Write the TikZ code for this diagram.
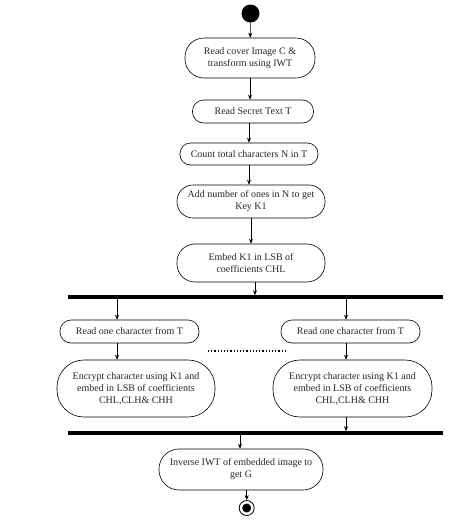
\documentclass[tikz,border=0pt]{standalone}
\usepackage{fontspec}
\setmainfont{Liberation Serif}
\usetikzlibrary{arrows.meta}
\tikzset{
  actbox/.style={draw=black, line width=0.6pt, align=center, inner sep=0pt,
    font=\fontsize{10}{12}\selectfont, text=black!85},
  bar/.style={fill=black, draw=none, minimum height=3.2pt, inner sep=0pt},
  arr/.style={-{Stealth[length=5pt,width=4pt]}, line width=0.6pt},
}
\begin{document}
\begin{tikzpicture}[x=1pt,y=-1pt]
\useasboundingbox (0,0) rectangle (474,520);
% start
\node[circle, fill=black, minimum size=18pt, inner sep=0pt] (start) at (250.5,13.5) {};
% boxes
\node[actbox, rounded corners=19pt, minimum width=130pt, minimum height=40pt] (b1) at (250,58) {Read cover Image C \&\\transform using IWT};
\node[actbox, rounded corners=11pt, minimum width=121pt, minimum height=23pt] (b2) at (253,111.5) {Read Secret Text T};
\node[actbox, rounded corners=10.5pt, minimum width=138pt, minimum height=22pt] (b3) at (249,154) {Count total characters N in T};
\node[actbox, rounded corners=16pt, minimum width=148pt, minimum height=33pt] (b4) at (251,201.5) {Add number of ones in N to get\\Key K1};
\node[actbox, rounded corners=18pt, minimum width=148pt, minimum height=38pt] (b5) at (251,263) {Embed K1 in LSB of\\coefficients CHL};
% fork bar
\node[bar, minimum width=375pt] (bar1) at (255.5,297) {};
% left branch
\node[actbox, rounded corners=11pt, minimum width=139pt, minimum height=23pt] (l1) at (129.5,331.5) {Read one character from T};
\node[actbox, rounded corners=27pt, minimum width=158pt, minimum height=57pt] (l2) at (136,388.5) {Encrypt character using K1 and\\embed in LSB of coefficients\\CHL,CLH\& CHH};
% right branch
\node[actbox, rounded corners=11pt, minimum width=139pt, minimum height=23pt] (r1) at (350.5,331.5) {Read one character from T};
\node[actbox, rounded corners=27pt, minimum width=159pt, minimum height=57pt] (r2) at (352.5,388.5) {Encrypt character using K1 and\\embed in LSB of coefficients\\CHL,CLH\& CHH};
% dotted
\coordinate (d1) at (208,351);
\coordinate (d2) at (287,351);
\draw[line width=1.2pt, dotted] (d1) -- (d2);
% join bar
\node[bar, minimum width=375pt] (bar2) at (255.5,433) {};
% final
\node[actbox, rounded corners=20pt, minimum width=164pt, minimum height=41pt] (b6) at (241,469.5) {Inverse IWT of embedded image to\\get G};
% end
\node[circle, draw=black, line width=0.8pt, minimum size=15pt, inner sep=0pt] (endo) at (246.7,508) {};
\node[circle, fill=black, minimum size=9pt, inner sep=0pt] (endi) at (246.7,508) {};
% connectors
\draw[arr] (start) -- (b1);
\draw[arr] (b1) -- (b2.north -| b1);
\draw[arr] (b2.south -| b3) -- (b3);
\draw[arr] (b3) -- (b4.north -| b3);
\draw[arr] (b4) -- (b5);
\coordinate (x1) at (255,0);
\draw[arr] (b5.south -| x1) -- (bar1.north -| x1);
\coordinate (xl) at (117,0);
\coordinate (xr) at (346,0);
\draw[arr] (bar1.south -| xl) -- (l1.north -| xl);
\draw[arr] (l1.south -| xl) -- (l2.north -| xl);
\draw[arr] (bar1.south -| xr) -- (r1.north -| xr);
\draw[arr] (r1.south -| xr) -- (r2.north -| xr);
\draw[arr] (r2.south -| xr) -- (bar2.north -| xr);
\coordinate (x6) at (240,0);
\draw[arr] (bar2.south -| x6) -- (b6.north -| x6);
\draw[arr] (b6.south -| endo) -- (endo);
\end{tikzpicture}
\end{document}
